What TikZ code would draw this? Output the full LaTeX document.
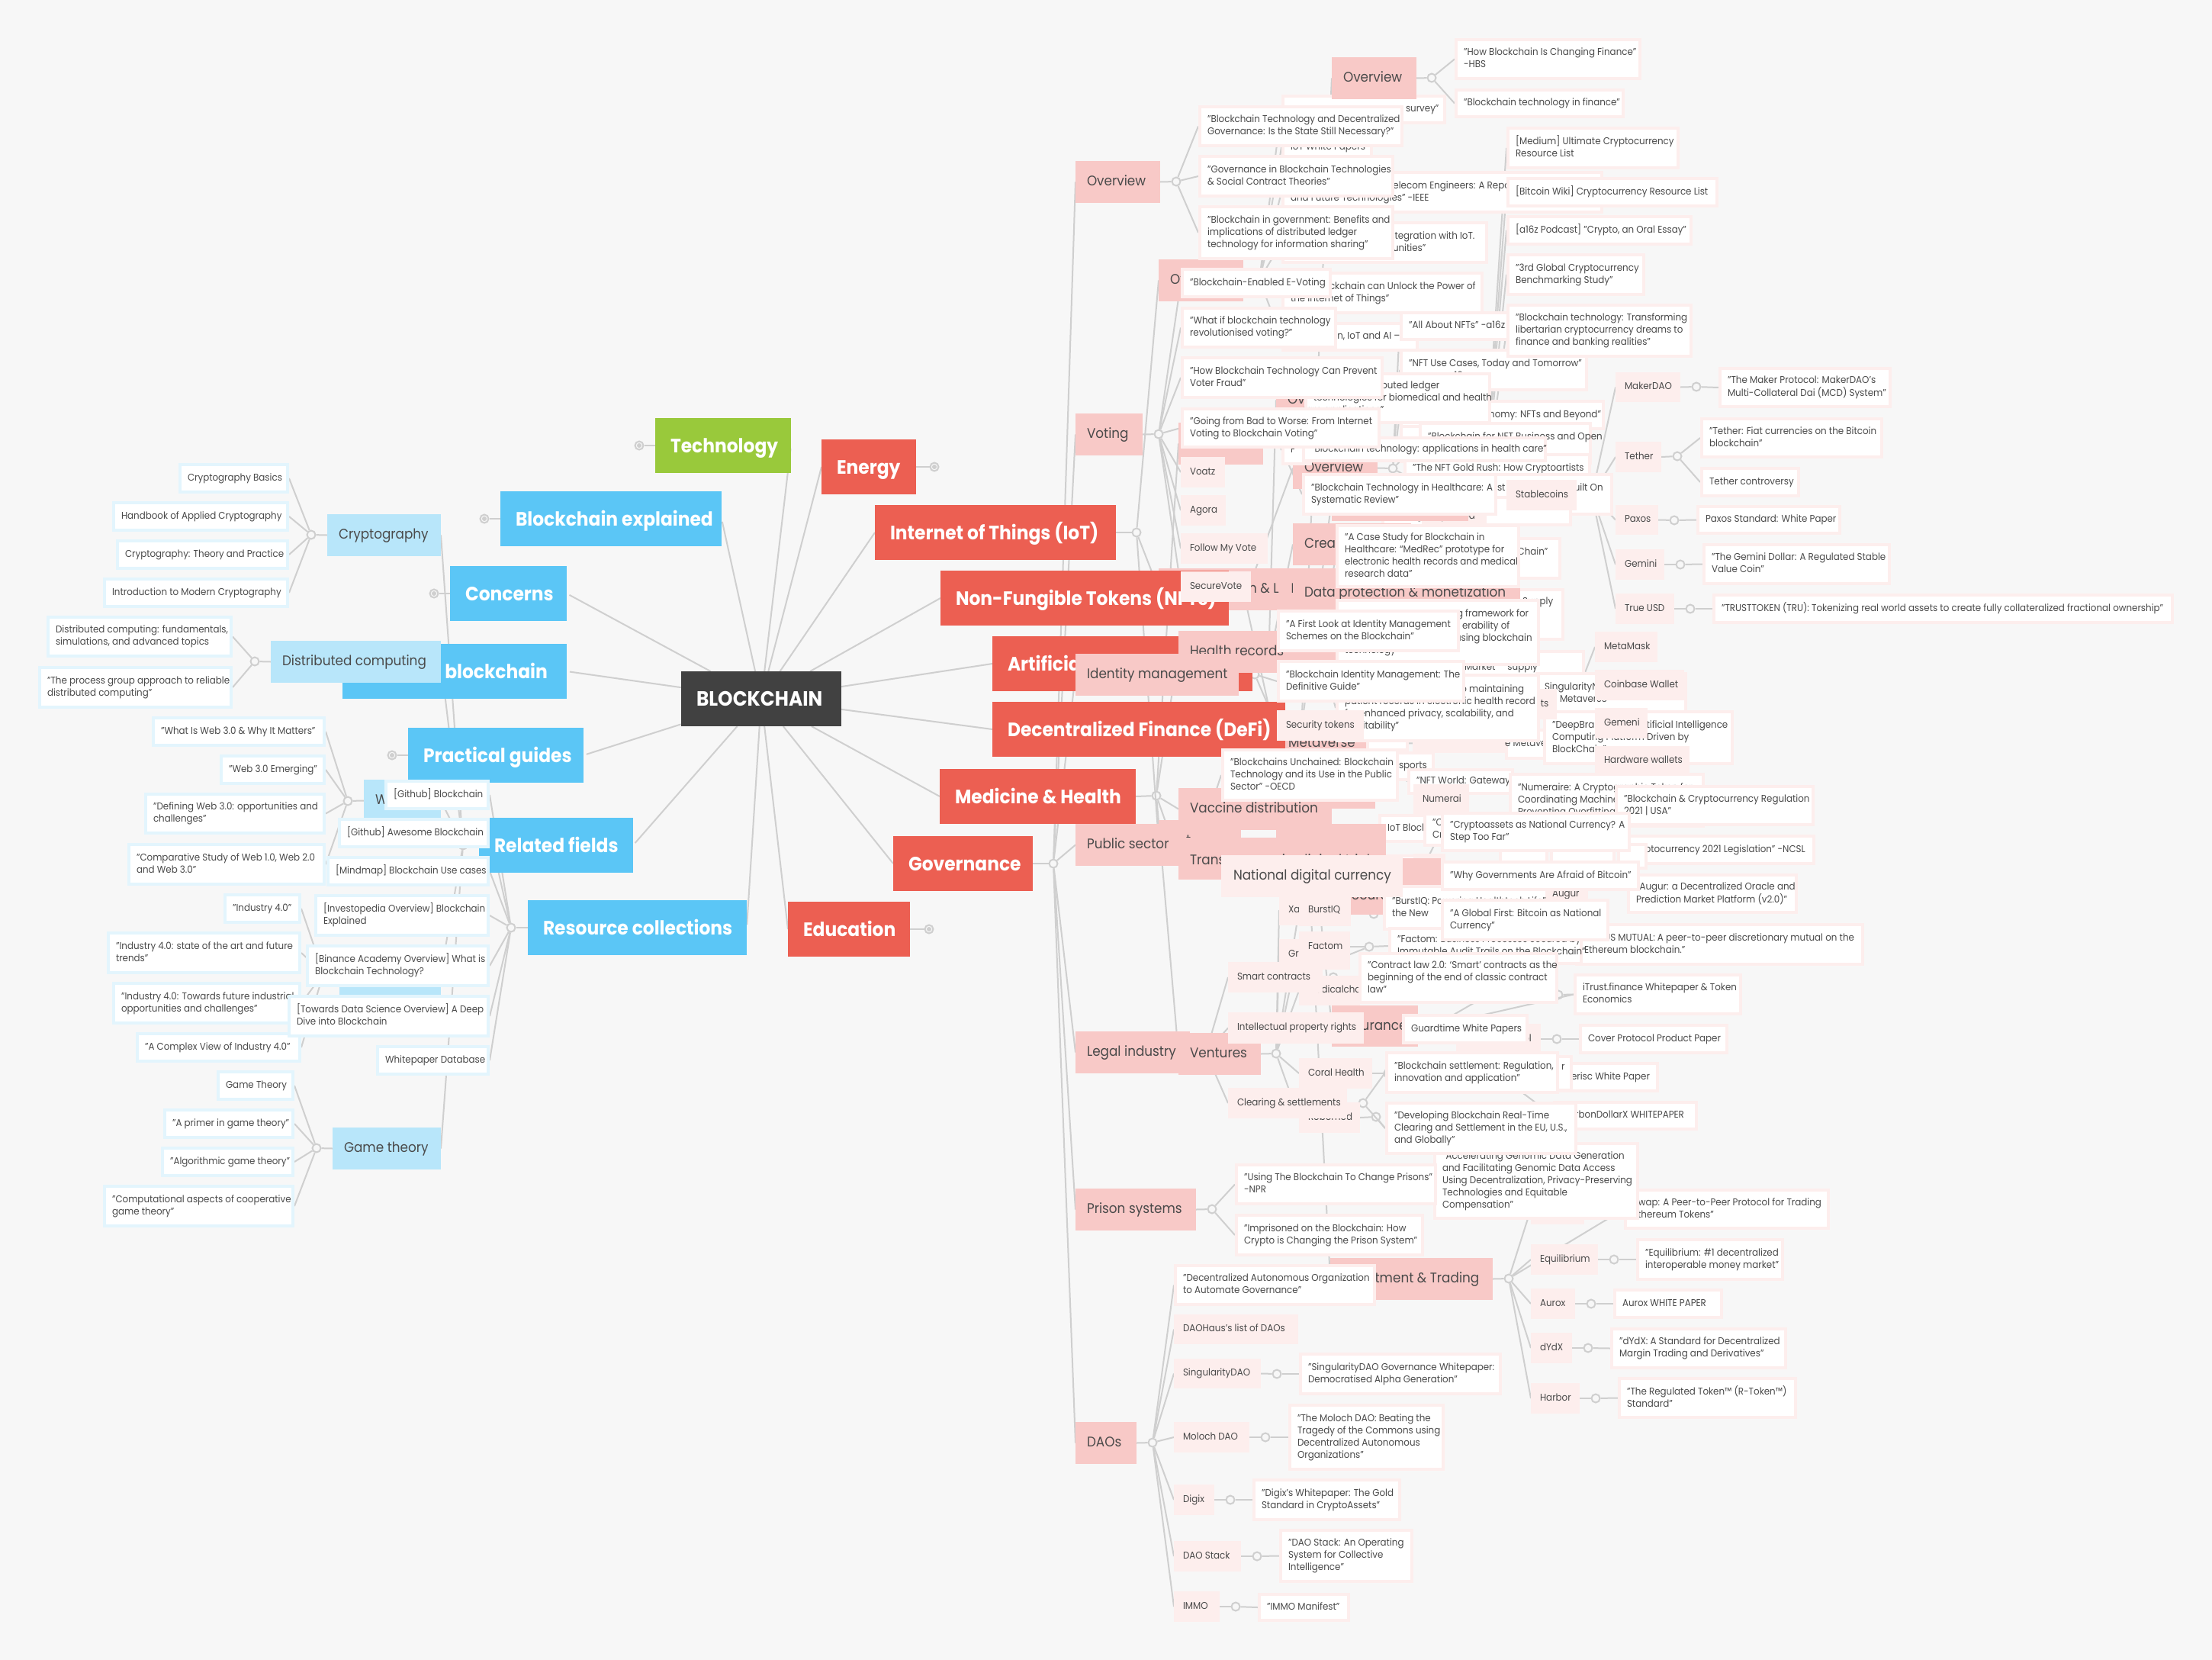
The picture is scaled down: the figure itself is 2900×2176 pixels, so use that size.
\documentclass[tikz,border=0pt]{standalone}
\usepackage{fontspec}
\setmainfont{Poppins}[FakeStretch=0.92]
\pgfdeclarelayer{conn}\pgfsetlayers{conn,main}
\definecolor{pg}{HTML}{F7F7F7}
\definecolor{cnc}{HTML}{CFCFCF}
\definecolor{txt}{HTML}{4A4A4A}
\definecolor{redm}{HTML}{EC5F52}
\definecolor{bluem}{HTML}{5BC6F6}
\definecolor{greenm}{HTML}{99C93B}
\definecolor{darkm}{HTML}{414141}
\definecolor{rose}{HTML}{F8C9C7}
\definecolor{pale}{HTML}{FDEEED}
\definecolor{blue2}{HTML}{B8E6FA}
\definecolor{haloB}{HTML}{E3F5FD}
\tikzset{
 boxb/.style={rectangle,inner sep=0pt,outer sep=0pt,text=txt},
 mainst/.style={boxb,text=white,font=\fontsize{25.4}{32}\selectfont\bfseries},
 lv2r/.style={boxb,fill=rose,font=\fontsize{18.3}{25}\selectfont},
 lv2b/.style={boxb,fill=blue2,font=\fontsize{18.3}{25}\selectfont},
 lv2p/.style={boxb,fill=pale,font=\fontsize{18.3}{25}\selectfont},
 lv3st/.style={boxb,fill=pale,font=\fontsize{12.9}{16}\selectfont},
 leafr/.style={rectangle,inner sep=0pt,text=txt,fill=white,draw=pale,line width=4pt,font=\fontsize{12.9}{16}\selectfont},
 leafb/.style={leafr,draw=haloB},
 hubst/.style={circle,draw=cnc,fill=pg,line width=2pt,minimum size=11pt,inner sep=0pt},
 hubd/.style={hubst,path picture={\fill[cnc] (path picture bounding box.center) circle (3);}},
 cnl/.style={draw=cnc,line width=2pt}
}
\newcommand\Bx[9]{\node[#1,minimum width={(#7-#5-#2)*1pt},minimum height={(#8-#6-#2)*1pt}] (#4) at ({(#5+#7)/2},{(#6+#8)/2}) {\makebox[\dimexpr#7pt-#5pt-#3pt-#3pt\relax][l]{\begin{tabular}{@{}l@{}}#9\end{tabular}}};}
\newcommand\Nmain[7][redm]{\Bx{mainst,fill=#1}{0}{20}{#2}{#3}{#4}{#5}{#6}{\raisebox{-3.5pt}[0pt][0pt]{#7}}}
\newcommand\Nrose[5]{\Bx{lv2r}{0}{15}{#1}{#2}{#3}{#4}{#5}}
\newcommand\Nblue[5]{\Bx{lv2b}{0}{15}{#1}{#2}{#3}{#4}{#5}}
\newcommand\Npale[5]{\Bx{lv3st}{0}{12}{#1}{#2}{#3}{#4}{#5}}
\newcommand\Nleaf[5]{\Bx{leafr}{4}{12}{#1}{#2}{#3}{#4}{#5}}
\newcommand\Nleafb[5]{\Bx{leafb}{4}{12}{#1}{#2}{#3}{#4}{#5}}
\newcommand\Nhub[3]{\node[hubst] (#1) at (#2,#3) {};}
\newcommand\Nhubd[3]{\node[hubd] (#1) at (#2,#3) {};}
\newcommand\Cn[2]{\draw[cnl] (#1) -- (#2);}
\newcommand\Fan[2]{\foreach \tg in {#2} {\draw[cnl] (#1) -- (\tg);}}
\begin{document}
\begin{tikzpicture}[x=1pt,y=-1pt]
\useasboundingbox (0,0) rectangle (2900,2176);
\begin{pgfonlayer}{conn}
\fill[pg] (0,0) rectangle (2900,2176);
\Nhubd{htech}{838}{584}\Nhubd{hexpl}{635}{680}\Nhubd{hconc}{569}{778}\Nhubd{hprac}{514}{990}
\Nhubd{hener}{1225}{612}\Nhubd{hedu}{1218}{1218}
\Nhub{hrel}{607}{1108}\Nhub{hres}{670}{1216}
\Nhub{hcr}{408}{701}\Nhub{hdi}{334}{867}\Nhub{hweb}{456}{1050}\Nhub{hind}{424}{1276}\Nhub{hgt}{415}{1505}
\Nhub{hiot}{1490}{698}\Nhub{hiotov}{1651}{367}\Nhub{hsup}{1772}{772}
\Nhub{hnft}{1632}{784}\Nhub{hnov}{1826}{614}\Nhub{hmeta}{1815}{974}
\Nhub{hai}{1663}{870}
\Nhub{hdefi}{1706}{956}\Nhub{hovf}{1877}{102}\Nhub{hcoll}{1945}{655}
\Nhub{hstb}{2087}{649}\Nhub{hmk}{2224}{507}\Nhub{hte}{2199}{598}\Nhub{hpx}{2195}{682}\Nhub{hgm}{2203}{740}\Nhub{htu}{2216}{798}
\Nhub{hwal}{2062}{923}
\Nhub{hins}{1880}{1345}\Nhub{hcov}{2041}{1362}\Nhub{hitr}{2043}{1304}
\Nhub{hinv}{1978}{1676}\Nhub{heq}{2116}{1651}\Nhub{hau}{2086}{1709}\Nhub{hdy}{2082}{1767}\Nhub{hha}{2092}{1833}
\Nhub{hmed}{1516}{1043}\Nhub{hmov}{1677}{581}\Nhub{hhea}{1731}{854}\Nhub{hvent}{1673}{1381}
\Nhub{hbq}{1801}{1198}\Nhub{hrob}{1804}{1464}\Nhub{hcor}{1820}{1407}\Nhub{hfac}{1795}{1241}
\Nhub{hgov}{1381}{1132}\Nhub{hgo}{1542}{238}\Nhub{hvo}{1519}{569}\Nhub{hid}{1645}{884}\Nhub{hpu}{1571}{1107}
\Nhub{hnat}{1860}{1148}\Nhub{hle}{1581}{1380}\Nhub{hsm}{1748}{1281}\Nhub{hip}{1815}{1349}\Nhub{hcl}{1787}{1446}
\Nhub{hpr}{1589}{1585}\Nhub{hda}{1511}{1891}\Nhub{hsi}{1674}{1801}\Nhub{hmo}{1659}{1884}\Nhub{hdg}{1613}{1966}\Nhub{hds}{1648}{2040}\Nhub{him}{1620}{2106}
\end{pgfonlayer}
% ---------- left side
\Nmain[greenm]{tech}{859}{548}{1037}{620}{Technology}
\Nmain[bluem]{expl}{656}{644}{946}{716}{Blockchain explained}
\Nmain[bluem]{conc}{590}{742}{743}{814}{Concerns}
\Nmain[bluem]{basi}{449}{844}{743}{916}{\hspace*{86pt}of blockchain}
\Nmain[bluem]{prac}{535}{954}{765}{1026}{Practical guides}
\Nmain[bluem]{rela}{628}{1072}{830}{1144}{Related fields}
\Nmain[bluem]{reso}{692}{1180}{979}{1252}{Resource collections}
\Nmain[darkm]{bc}{893}{880}{1103}{952}{\fontsize{27}{32}\selectfont BLOCKCHAIN}
\Nblue{crypt}{429}{674}{578}{729}{Cryptography}
\Nblue{dist}{355}{840}{578}{895}{Distributed computing}
\Nblue{web}{477}{1022}{578}{1077}{Web 3.0}
\Nblue{indu}{445}{1249}{578}{1304}{Industry 4.0}
\Nblue{game}{436}{1478}{578}{1533}{Game theory}
\Nleafb{c1}{234}{607}{379}{647}{Cryptography Basics}
\Nleafb{c2}{147}{657}{379}{697}{Handbook of Applied Cryptography}
\Nleafb{c3}{152}{707}{379}{747}{Cryptography: Theory and Practice}
\Nleafb{c4}{135}{757}{379}{797}{Introduction to Modern Cryptography}
\Nleafb{d1}{61}{807}{305}{862}{Distributed computing: fundamentals,\\simulations, and advanced topics}
\Nleafb{d2}{50}{873}{305}{929}{"The process group approach to reliable\\distributed computing"}
\Nleafb{w1}{199}{939}{427}{979}{"What Is Web 3.0 \& Why It Matters"}
\Nleafb{w2}{288}{989}{427}{1029}{"Web 3.0 Emerging"}
\Nleafb{w3}{189}{1039}{427}{1094}{"Defining Web 3.0: opportunities and\\challenges"}
\Nleafb{w4}{167}{1105}{427}{1161}{"Comparative Study of Web 1.0, Web 2.0\\and Web 3.0"}
\Nleafb{n1}{293}{1171}{395}{1211}{"Industry 4.0"}
\Nleafb{n2}{140}{1221}{395}{1277}{"Industry 4.0: state of the art and future\\trends"}
\Nleafb{n3}{147}{1287}{395}{1343}{"Industry 4.0: Towards future industrial\\opportunities and challenges"}
\Nleafb{n4}{178}{1353}{395}{1393}{"A Complex View of Industry 4.0"}
\Nleafb{g1}{284}{1403}{386}{1443}{Game Theory}
\Nleafb{g2}{214}{1453}{386}{1493}{"A primer in game theory"}
\Nleafb{g3}{211}{1503}{386}{1543}{"Algorithmic game theory"}
\Nleafb{g4}{135}{1553}{386}{1609}{"Computational aspects of cooperative\\game theory"}
\Nleafb{r1}{504}{1022}{642}{1062}{[Github] Blockchain}
\Nleafb{r2}{443}{1072}{642}{1112}{[Github] Awesome Blockchain}
\Nleafb{r3}{428}{1122}{642}{1162}{[Mindmap] Blockchain Use cases}
\Nleafb{r4}{412}{1172}{642}{1228}{[Investopedia Overview] Blockchain\\Explained}
\Nleafb{r5}{401}{1238}{642}{1294}{[Binance Academy Overview] What is\\Blockchain Technology?}
\Nleafb{r6}{377}{1304}{642}{1360}{[Towards Data Science Overview] A Deep\\Dive into Blockchain}
\Nleafb{r7}{493}{1370}{642}{1410}{Whitepaper Database}
% ---------- right main
\Nmain{ener}{1077}{576}{1201}{648}{Energy}
\Nmain{educ}{1033}{1182}{1193}{1254}{Education}
% IoT subtree
\Nmain{iot}{1147}{662}{1463}{734}{Internet of Things (IoT)}
\Nrose{iotov}{1519}{340}{1630}{395}{Overview}
\Nleaf{i1}{1680}{124}{1896}{163}{\hspace*{151pt}survey"}
\Nleaf{i2}{1680}{173}{1800}{213}{IoT White Papers}
\Nleaf{i3}{1680}{224}{2102}{280}{\hspace*{128pt}Telecom Engineers: A Report on Current\\and Future Technologies" -IEEE}
\Nleaf{i4}{1680}{290}{1951}{346}{\hspace*{126pt}integration with IoT.\\\hspace*{94pt}opportunities"}
\Nleaf{i5}{1680}{356}{1945}{412}{"How Blockchain can Unlock the Power of\\the Internet of Things"}
\Nleaf{i6}{1680}{422}{1860}{461}{"Blockchain, IoT and AI --}
\Nrose{sup}{1519}{745}{1751}{800}{\hspace*{5pt}Supply chain \& L\hspace*{16pt}M}
\Nleaf{s1}{1802}{704}{2047}{760}{\hspace*{41pt}"Blockchain for Supply Chain"\\~}
\Nleaf{s2}{1802}{771}{2051}{840}{\hspace*{182pt}Supply\\~\\~}
\Nleaf{s3}{1802}{852}{2078}{914}{\hspace*{106pt}Market\hspace*{16pt}supply\\\hspace*{166pt}Chain}
\Nrose{smc}{1519}{1075}{1627}{1130}{\hspace*{21pt}t}
% NFT subtree
\Nmain{nft}{1233}{748}{1611}{820}{Non-Fungible Tokens (NFTs)}
\Nrose{nov}{1695}{586}{1806}{641}{Overview}
\Nleaf{f1}{1835}{408}{1985}{447}{"All About NFTs" -a16z}
\Nleaf{f2}{1835}{457}{2082}{513}{"NFT Use Cases, Today and Tomorrow"\\\hspace*{45pt}-a16z}
\Nleaf{f3}{1835}{524}{2104}{564}{\hspace*{17pt}"The Token Economy: NFTs and Beyond"}
\Nleaf{f3b}{1835}{557}{1875}{607}{~}
\Nleaf{f4}{1860}{553}{2087}{609}{"Blockchain for NFT Business and Open\\~}
\Nleaf{f5}{1840}{594}{2086}{650}{"The NFT Gold Rush: How Cryptoartists\\Wish Strange Beauty of NFTs"}
\Nleaf{f6}{1835}{620}{2115}{676}{\hspace*{116pt}st\hspace*{83pt}Built On\\\hspace*{114pt}Ac}
\Nleaf{f7}{1811}{657}{1868}{697}{Manager}
\Npale{f8}{1868}{657}{1945}{697}{Opensea}
\Nleaf{f9}{1945}{650}{2061}{690}{~}
\Nrose{meta}{1674}{947}{1794}{1002}{Metaverse}
\Nleaf{m1}{1791}{950}{1847}{985}{~}
\Npale{m2}{1852}{955}{1973}{987}{~}
\Nleaf{m3}{1973}{955}{2027}{996}{\hspace*{-12pt}e Metaverse}
\Nleaf{m4}{1800}{985}{1881}{1024}{\hspace*{22pt}sports}
\Nleaf{m5}{1845}{1007}{1985}{1042}{"NFT World: Gateway}
% AI subtree
\Nmain{ai}{1301}{834}{1642}{906}{Artificial Intelligence}
\Nrose{ao}{1673}{497}{1784}{552}{Overview}
\Nrose{cre}{1695}{686}{1850}{741}{Creators}
\Nrose{dp}{1695}{750}{1993}{805}{Data protection \& monetization}
\Nleaf{a1}{2013}{881}{2212}{937}{SingularityNET\\\hspace*{20pt}Metaverse"}
\Nleaf{a2}{2023}{931}{2273}{1003}{"DeepBrain Chain: Artificial Intelligence\\Computing Platform Driven by\\BlockChain"}
\Nleaf{a3}{1978}{1013}{2235}{1085}{"Numeraire: A Cryptographic Token for\\Coordinating Machine Intelligence and\\Preventing Overfitting"}
\Npale{a4}{1853}{1028}{1926}{1068}{Numerai}
\Nleaf{a5}{1807}{1067}{1870}{1105}{IoT Blockchain}
\Nleaf{a6}{1866}{1065}{1900}{1110}{"C\\Cr}
\Nleaf{a7}{1800}{1120}{1857}{1150}{\hspace*{29pt}ssv}
\Npale{a8}{1853}{1119}{1895}{1159}{Matrix}
\Nrose{a9}{1700}{1020}{1803}{1060}{~}
% DeFi subtree
\Nmain{defi}{1301}{920}{1685}{992}{Decentralized Finance (DeFi)}
\Nrose{ovf}{1746}{75}{1857}{130}{Overview}
\Nleaf{o1}{1907}{50}{2152}{105}{"How Blockchain Is Changing Finance"\\-HBS}
\Nleaf{o2}{1907}{116}{2130}{155}{"Blockchain technology in finance"}
\Nrose{coll}{1746}{628}{1925}{683}{Resources}
\Nleaf{x1}{1975}{166}{2202}{222}{[Medium] Ultimate Cryptocurrency\\Resource List}
\Nleaf{x2}{1975}{232}{2253}{272}{[Bitcoin Wiki] Cryptocurrency Resource List}
\Nleaf{x3}{1975}{282}{2219}{322}{[a16z Podcast] "Crypto, an Oral Essay"}
\Nleaf{x4}{1975}{332}{2157}{388}{"3rd Global Cryptocurrency\\Benchmarking Study"}
\Nleaf{x5}{1975}{398}{2219}{469}{"Blockchain technology: Transforming\\libertarian cryptocurrency dreams to\\finance and banking realities"}
\Npale{stb}{1975}{629}{2067}{669}{Stablecoins}
\Npale{mkr}{2118}{488}{2203}{527}{MakerDAO}
\Nleaf{mk1}{2253}{481}{2480}{535}{"The Maker Protocol: MakerDAO's\\Multi-Collateral Dai (MCD) System"}
\Npale{teth}{2118}{579}{2178}{619}{Tether}
\Nleaf{te1}{2229}{547}{2469}{601}{"Tether: Fiat currencies on the Bitcoin\\blockchain"}
\Nleaf{te2}{2229}{612}{2360}{652}{Tether controversy}
\Npale{paxo}{2118}{662}{2174}{701}{Paxos}
\Nleaf{px1}{2224}{662}{2414}{701}{Paxos Standard: White Paper}
\Npale{gemi}{2118}{720}{2182}{760}{Gemini}
\Nleaf{gm1}{2232}{712}{2479}{767}{"The Gemini Dollar: A Regulated Stable\\Value Coin"}
\Npale{tusd}{2118}{778}{2195}{818}{True USD}
\Nleaf{tu1}{2245}{778}{2850}{818}{"TRUSTTOKEN (TRU): Tokenizing real world assets to create fully collateralized fractional ownership"}
\Npale{wal}{1975}{903}{2041}{943}{Wallets}
\Npale{wa1}{2091}{828}{2173}{868}{MetaMask}
\Npale{wa2}{2091}{878}{2208}{918}{Coinbase Wallet}
\Npale{wa3}{2091}{928}{2160}{968}{Gemeni}
\Npale{wa4}{2091}{978}{2215}{1017}{Hardware wallets}
\Nleaf{rg1}{2117}{1029}{2379}{1083}{"Blockchain \& Cryptocurrency Regulation\\2021 | USA"}
\Nleaf{rg2}{2134}{1094}{2380}{1134}{\hspace*{-10pt}Cryptocurrency 2021 Legislation" -NCSL}
\Nleaf{rg3}{1965}{1105}{2030}{1140}{~}
\Nleaf{rg4}{2032}{1105}{2118}{1140}{~}
\Nleaf{rg5}{2120}{1105}{2160}{1140}{~}
\Nrose{rg6}{1839}{1125}{1889}{1163}{~}
\Npale{aug}{2023}{1152}{2082}{1192}{Augur}
\Nleaf{aug1}{2133}{1145}{2357}{1198}{"Augur: a Decentralized Oracle and\\Prediction Market Platform (v2.0)"}
\Nrose{ins}{1746}{1318}{1859}{1372}{Insurance}
\Npale{cov}{1909}{1342}{2020}{1382}{Cover Protocol}
\Nleaf{cv1}{2070}{1342}{2266}{1382}{Cover Protocol Product Paper}
\Nleaf{it1}{2063}{1276}{2284}{1331}{iTrust.finance Whitepaper \& Token\\Economics}
\Nleaf{ne1}{2065}{1210}{2444}{1266}{"NEXUS MUTUAL: A peer-to-peer discretionary mutual on the\\Ethereum blockchain."}
\Nleaf{et1}{2030}{1392}{2175}{1432}{Etherisc White Paper}
\Nleaf{et0}{1950}{1383}{2062}{1431}{\hspace*{85pt}r\\~}
\Nleaf{cb1}{2036}{1443}{2226}{1482}{CarbonDollarX WHITEPAPER}
\Nrose{inv}{1744}{1649}{1957}{1704}{Investment \& Trading}
\Npale{neb}{2007}{1565}{2077}{1605}{Nebula}
\Nleaf{sw1}{2129}{1558}{2399}{1612}{\hspace*{-20pt}"AirSwap: A Peer-to-Peer Protocol for Trading\\Ethereum Tokens"}
\Nleaf{ne2}{1879}{1497}{2149}{1599}{"Accelerating Genomic Data Generation\\and Facilitating Genomic Data Access\\Using Decentralization, Privacy-Preserving\\Technologies and Equitable\\Compensation"}
\Npale{equ}{2007}{1631}{2095}{1671}{Equilibrium}
\Nleaf{eq1}{2145}{1623}{2339}{1679}{"Equilibrium: \#1 decentralized\\interoperable money market"}
\Npale{aur}{2007}{1689}{2065}{1729}{Aurox}
\Nleaf{au1}{2115}{1689}{2259}{1729}{Aurox WHITE PAPER}
\Npale{dyd}{2007}{1747}{2061}{1787}{dYdX}
\Nleaf{dy1}{2111}{1740}{2343}{1795}{"dYdX: A Standard for Decentralized\\Margin Trading and Derivatives"}
\Npale{har}{2007}{1813}{2071}{1853}{Harbor}
\Nleaf{ha1}{2121}{1805}{2356}{1860}{"The Regulated Token™ (R-Token™)\\Standard"}
% Medicine subtree
\Nmain{med}{1232}{1008}{1489}{1080}{Medicine \& Health}
\Nrose{mov}{1545}{554}{1656}{609}{Overview}
\Nleaf{q1}{1680}{570}{1720}{610}{F}
\Nleaf{q2}{1710}{488}{1955}{556}{\hspace*{60pt}distributed ledger\\technologies for biomedical and health\\\hspace*{-16pt}care applications"}
\Nleaf{q3}{1707}{572}{2028}{606}{"Blockchain technology: applications in health care"}
\Nleaf{q4}{1707}{620}{1963}{676}{"Blockchain Technology in Healthcare: A\\Systematic Review"}
\Nrose{hea}{1545}{827}{1751}{882}{Health records}
\Nleaf{h1}{1751}{687}{1993}{771}{"A Case Study for Blockchain in\\Healthcare: “MedRec” prototype for\\electronic health records and medical\\research data"}
\Nleaf{h2}{1751}{785}{2019}{873}{\hspace*{147pt}g framework for\\\hspace*{154pt}erability of\\\hspace*{145pt}using blockchain\\technology"}
\Nleaf{h3}{1751}{883}{2019}{973}{\hspace*{148pt}to maintaining\\patient records in electronic health record\\for enhanced privacy, scalability, and\\auditability"}
\Nrose{vac}{1545}{1033}{1746}{1088}{Vaccine distribution}
\Nrose{tr0}{1673}{1080}{1817}{1135}{~}
\Nrose{tra}{1545}{1098}{1817}{1153}{\raisebox{-3pt}[0pt][0pt]{Transparency in clinical trials}}
\Nrose{vent}{1545}{1354}{1653}{1409}{Ventures}
\Npale{xa}{1677}{1173}{1770}{1213}{Xain}
\Npale{gr}{1677}{1231}{1770}{1271}{Gr}
\Nrose{sec}{1771}{1150}{1820}{1199}{\hspace*{-24pt}Secure}
\Npale{bq}{1703}{1172}{1771}{1214}{BurstIQ}
\Nleaf{bq1}{1813}{1160}{2030}{1220}{"BurstIQ: Powering Healthtech Life"\\the New}
\Npale{fac}{1703}{1221}{1770}{1261}{Factom}
\Nleaf{fa1}{1820}{1215}{2075}{1265}{"Factom: Business Processes Secured by\\Immutable Audit Trails on the Blockchain"}
\Npale{mdc}{1703}{1279}{1783}{1318}{Medicalchain}
\Npale{cor}{1703}{1387}{1799}{1427}{Coral Health}
\Npale{rob}{1703}{1445}{1783}{1485}{Robomed}
% Governance subtree
\Nmain{gov}{1171}{1096}{1354}{1168}{Governance}
\Nrose{go}{1410}{211}{1521}{266}{Overview}
\Nleaf{go1}{1571}{138}{1840}{193}{"Blockchain Technology and Decentralized\\Governance: Is the State Still Necessary?"}
\Nleaf{go2}{1571}{203}{1828}{259}{"Governance in Blockchain Technologies\\\& Social Contract Theories"}
\Nleaf{go3}{1571}{269}{1828}{341}{"Blockchain in government: Benefits and\\implications of distributed ledger\\technology for information sharing"}
\Nrose{vo}{1410}{542}{1498}{597}{Voting}
\Nleaf{v1}{1548}{351}{1746}{391}{"Blockchain-Enabled E-Voting}
\Nleaf{v2}{1548}{402}{1753}{457}{"What if blockchain technology\\revolutionised voting?"}
\Nleaf{v3}{1548}{467}{1814}{523}{"How Blockchain Technology Can Prevent\\Voter Fraud"}
\Nleaf{v4}{1548}{534}{1810}{588}{"Going from Bad to Worse: From Internet\\Voting to Blockchain Voting"}
\Npale{v5}{1548}{599}{1606}{639}{Voatz}
\Npale{v6}{1548}{649}{1607}{689}{Agora}
\Npale{v7}{1548}{699}{1662}{739}{Follow My Vote}
\Npale{v8}{1548}{749}{1640}{789}{SecureVote}
\Nrose{idm}{1410}{857}{1624}{912}{Identity management}
\Nleaf{id1}{1674}{799}{1914}{855}{"A First Look at Identity Management\\Schemes on the Blockchain"}
\Nleaf{id2}{1674}{865}{1921}{921}{"Blockchain Identity Management: The\\Definitive Guide"}
\Npale{id3}{1674}{931}{1788}{971}{Security tokens}
\Nrose{pub}{1410}{1080}{1550}{1135}{Public sector}
\Nleaf{pu1}{1601}{981}{1834}{1051}{"Blockchains Unchained: Blockchain\\Technology and its Use in the Public\\Sector" -OECD}
\Bx{lv2p}{0}{16}{nat}{1601}{1121}{1839}{1176}{National digital currency}
\Nleaf{na1}{1889}{1064}{2138}{1117}{"Cryptoassets as National Currency? A\\Step Too Far"}
\Nleaf{na2}{1889}{1128}{2150}{1168}{"Why Governments Are Afraid of Bitcoin"}
\Nleaf{na3}{1889}{1178}{2110}{1234}{"A Global First: Bitcoin as National\\Currency"}
\Nrose{leg}{1410}{1352}{1560}{1407}{Legal industry}
\Npale{sm}{1610}{1261}{1734}{1301}{Smart contracts}
\Nleaf{sm1}{1781}{1248}{2043}{1316}{"Contract law 2.0: ‘Smart’ contracts as the\\beginning of the end of classic contract\\law"}
\Npale{ipr}{1610}{1327}{1788}{1368}{Intellectual property rights}
\Nleaf{ip1}{1838}{1329}{2004}{1369}{Guardtime White Papers}
\Npale{cle}{1610}{1426}{1766}{1466}{Clearing \& settlements}
\Nleaf{cl1}{1816}{1378}{2044}{1434}{"Blockchain settlement: Regulation,\\innovation and application"}
\Nleaf{cl2}{1816}{1444}{2068}{1514}{"Developing Blockchain Real-Time\\Clearing and Settlement in the EU, U.S.,\\and Globally"}
\Nrose{pri}{1410}{1558}{1568}{1613}{Prison systems}
\Nleaf{pr1}{1619}{1525}{1884}{1580}{"Using The Blockchain To Change Prisons"\\-NPR}
\Nleaf{pr2}{1619}{1591}{1867}{1647}{"Imprisoned on the Blockchain: How\\Crypto is Changing the Prison System"}
\Nrose{dao}{1410}{1864}{1490}{1919}{DAOs}
\Nleaf{da1}{1539}{1657}{1804}{1712}{"Decentralized Autonomous Organization\\to Automate Governance"}
\Npale{da2}{1539}{1723}{1702}{1762}{DAOHaus's list of DAOs}
\Npale{da3}{1539}{1781}{1653}{1820}{SingularityDAO}
\Nleaf{da3a}{1703}{1773}{1969}{1829}{"SingularityDAO Governance Whitepaper:\\Democratised Alpha Generation"}
\Npale{da4}{1539}{1864}{1638}{1904}{Moloch DAO}
\Nleaf{da4a}{1689}{1840}{1894}{1928}{"The Moloch DAO: Beating the\\Tragedy of the Commons using\\Decentralized Autonomous\\Organizations"}
\Npale{da5}{1539}{1946}{1592}{1986}{Digix}
\Nleaf{da5a}{1642}{1938}{1837}{1994}{"Digix's Whitepaper: The Gold\\Standard in CryptoAssets"}
\Npale{da6}{1539}{2020}{1627}{2060}{DAO Stack}
\Nleaf{da6a}{1677}{2004}{1853}{2075}{"DAO Stack: An Operating\\System for Collective\\Intelligence"}
\Npale{da7}{1539}{2086}{1599}{2126}{IMMO}
\Nleaf{da7a}{1649}{2088}{1770}{2126}{"IMMO Manifest"}
% ---------- connectors
\begin{pgfonlayer}{conn}
\foreach \tg in {tech,expl,conc,basi,prac,rela,reso} {\draw[cnl,shorten >=4pt] (bc) -- (\tg.east);}
\foreach \tg in {ener,iot,nft,ai,defi,med,gov,educ} {\draw[cnl] (bc) -- (\tg.west);}
\Cn{tech.west}{htech}\Cn{expl.west}{hexpl}\Cn{conc.west}{hconc}\Cn{prac.west}{hprac}\Cn{ener.east}{hener}\Cn{educ.east}{hedu}
\Cn{rela.west}{hrel}\Cn{reso.west}{hres}
\Fan{hrel}{crypt.east,dist.east,web.east,indu.east,game.east}
\Fan{hres}{r1.east,r2.east,r3.east,r4.east,r5.east,r6.east,r7.east}
\Cn{crypt.west}{hcr}\Fan{hcr}{c1.east,c2.east,c3.east,c4.east}
\Cn{dist.west}{hdi}\Fan{hdi}{d1.east,d2.east}
\Cn{web.west}{hweb}\Fan{hweb}{w1.east,w2.east,w3.east,w4.east}
\Cn{indu.west}{hind}\Fan{hind}{n1.east,n2.east,n3.east,n4.east}
\Cn{game.west}{hgt}\Fan{hgt}{g1.east,g2.east,g3.east,g4.east}
\Cn{iot.east}{hiot}\Fan{hiot}{iotov.west,sup.west,smc.west}
\Cn{iotov.east}{hiotov}\Fan{hiotov}{i1.west,i2.west,i3.west,i4.west,i5.west,i6.west}
\Cn{sup.east}{hsup}\Fan{hsup}{s1.west,s2.west,s3.west}
\Cn{nft.east}{hnft}\Fan{hnft}{nov.west,meta.west}
\Cn{nov.east}{hnov}\Fan{hnov}{f1.west,f2.west,f3.west,f4.west,f5.west,f6.west,f7.west}
\Cn{meta.east}{hmeta}\Fan{hmeta}{m1.west,m3.west,m4.west,m5.west}
\Cn{ai.east}{hai}\Fan{hai}{ao.west,cre.west,dp.west}
\Cn{defi.east}{hdefi}\Fan{hdefi}{ovf.west,coll.west,ins.west,inv.west}
\Cn{ovf.east}{hovf}\Fan{hovf}{o1.west,o2.west}
\Cn{coll.east}{hcoll}\Fan{hcoll}{x1.west,x2.west,x3.west,x4.west,x5.west,stb.west,wal.west}
\Cn{stb.east}{hstb}\Fan{hstb}{mkr.west,teth.west,paxo.west,gemi.west,tusd.west}
\Cn{mkr.east}{hmk}\Cn{hmk}{mk1.west}
\Cn{teth.east}{hte}\Fan{hte}{te1.west,te2.west}
\Cn{paxo.east}{hpx}\Cn{hpx}{px1.west}
\Cn{gemi.east}{hgm}\Cn{hgm}{gm1.west}
\Cn{tusd.east}{htu}\Cn{htu}{tu1.west}
\Cn{wal.east}{hwal}\Fan{hwal}{wa1.west,wa2.west,wa3.west,wa4.west}
\Cn{ins.east}{hins}\Fan{hins}{cov.west,ne1.west,it1.west,et1.west,cb1.west}
\Cn{cov.east}{hcov}\Cn{hcov}{cv1.west}\Cn{hitr}{it1.west}
\Cn{inv.east}{hinv}\Fan{hinv}{neb.west,sw1.west,equ.west,aur.west,dyd.west,har.west}
\Cn{equ.east}{heq}\Cn{heq}{eq1.west}
\Cn{aur.east}{hau}\Cn{hau}{au1.west}
\Cn{dyd.east}{hdy}\Cn{hdy}{dy1.west}
\Cn{har.east}{hha}\Cn{hha}{ha1.west}
\Cn{med.east}{hmed}\Fan{hmed}{mov.west,hea.west,vac.west,tra.west,vent.west}
\Cn{mov.east}{hmov}\Fan{hmov}{q1.west,q2.west,q3.west,q4.west}
\Cn{hea.east}{hhea}\Fan{hhea}{h1.west,h2.west,h3.west}
\Cn{vent.east}{hvent}\Fan{hvent}{xa.west,bq.west,fac.west,gr.west,mdc.west,cor.west,rob.west}
\Cn{bq.east}{hbq}\Cn{hbq}{bq1.west}\Cn{fac.east}{hfac}\Cn{gr.east}{hfac}\Cn{hfac}{fa1.west}
\Cn{cor.east}{hcor}\Cn{hcor}{cl1.west}\Cn{rob.east}{hrob}\Cn{hrob}{cl2.west}
\Cn{gov.east}{hgov}\Fan{hgov}{go.west,vo.west,idm.west,pub.west,leg.west,pri.west,dao.west}
\Cn{go.east}{hgo}\Fan{hgo}{go1.west,go2.west,go3.west}
\Cn{vo.east}{hvo}\Fan{hvo}{v1.west,v2.west,v3.west,v4.west,v5.west,v6.west,v7.west,v8.west}
\Cn{idm.east}{hid}\Fan{hid}{id1.west,id2.west,id3.west}
\Cn{pub.east}{hpu}\Fan{hpu}{pu1.west,nat.west}
\Cn{nat.east}{hnat}\Fan{hnat}{na1.west,na2.west,na3.west}
\Cn{leg.east}{hle}\Fan{hle}{sm.west,ipr.west,cle.west}
\Cn{sm.east}{hsm}\Cn{hsm}{sm1.west}\Cn{ipr.east}{hip}\Cn{hip}{ip1.west}
\Cn{cle.east}{hcl}\Fan{hcl}{cl1.west,cl2.west}
\Cn{pri.east}{hpr}\Fan{hpr}{pr1.west,pr2.west}
\Cn{dao.east}{hda}\Fan{hda}{da1.west,da2.west,da3.west,da4.west,da5.west,da6.west,da7.west}
\Cn{da3.east}{hsi}\Cn{hsi}{da3a.west}
\Cn{da4.east}{hmo}\Cn{hmo}{da4a.west}
\Cn{da5.east}{hdg}\Cn{hdg}{da5a.west}
\Cn{da6.east}{hds}\Cn{hds}{da6a.west}
\Cn{da7.east}{him}\Cn{him}{da7a.west}
\end{pgfonlayer}
\end{tikzpicture}
\end{document}
